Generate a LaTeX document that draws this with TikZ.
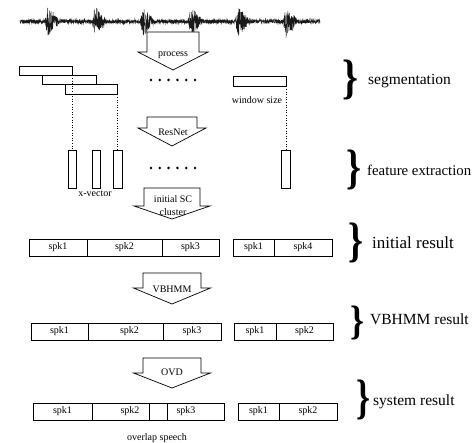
\documentclass[tikz,border=0pt]{standalone}
\usepackage{fontspec}
\setmainfont{Liberation Serif}
\usepackage{graphicx}
\newcommand{\blkarrow}[6]{%
  \draw[barrow] ({#1-#5},#2) -- ({#1+#5},#2) -- ({#1+#5},#3) -- ({#1+#6},#3)
    -- (#1,#4) -- ({#1-#6},#3) -- ({#1-#5},#3) -- cycle;}
\begin{document}
\begin{tikzpicture}[x=1pt,y=-1pt,
  declare function={bu(\u)=max(0,min(1+\u/3,1-\u/12));},
  wave/.style={line width=0.45pt, black!90},
  barrow/.style={draw, line width=0.7pt, fill=white},
  cell/.style={draw, line width=0.8pt, minimum height=17pt, inner sep=0pt, font=\fontsize{10}{12}\selectfont},
  seg/.style={draw, line width=0.8pt, inner sep=0pt},
  vec/.style={draw, line width=0.8pt, inner sep=0pt, minimum width=8.5pt, minimum height=38pt},
  small/.style={inner sep=0pt, font=\fontsize{10}{12}\selectfont},
  big/.style={inner sep=0pt, anchor=west, font=\fontsize{15.5}{18}\selectfont},
  dotline/.style={dotted, line width=0.6pt},
  brc/.style={inner sep=0pt, font=\bfseries}
]
\useasboundingbox (0,0) rectangle (474,443);
% waveform
\pgfmathsetseed{7}
\draw[wave] plot[domain=20:320, samples=1800, variable=\t]
  (\t, {21.5 + (1.8 + 13.5*(bu(\t-48)+bu(\t-95)+bu(\t-143)+bu(\t-191)+bu(\t-238)+bu(\t-286)))*(2*rnd-1)});
% process arrow
\blkarrow{173}{32}{52}{70}{26}{35}
\node[small] (tproc) at (173,55) {process};
% segmentation boxes
\node[seg, minimum width=53pt, minimum height=9pt] (b1) at (45.5,70.5) {};
\node[seg, minimum width=54pt, minimum height=9pt] (b2) at (69,79.5) {};
\node[seg, minimum width=52pt, minimum height=10pt] (b3) at (91,89) {};
\node[seg, minimum width=53pt, minimum height=10pt] (win) at (259.5,81) {};
\node[small] (twin) at (257,100) {window size};
\foreach \i in {0,...,5} \fill (151+\i*8.8,80) circle (1.4);
% ResNet arrow
\blkarrow{172}{117}{128}{146}{25}{34}
\node[small] (tres) at (173,132) {ResNet};
% feature vectors
\node[vec] (f1) at (72.5,169) {};
\node[vec] (f2) at (96.5,169) {};
\node[vec] (f3) at (118,169.5) {};
\node[vec] (f4) at (286,169.5) {};
\draw[dotline] (b1.south east) -- (b1.south east |- f1.north);
\draw[dotline] (b3.south east) -- (b3.south east |- f3.north);
\draw[dotline] (win.south east) -- (win.south east |- f4.north);
\node[small] (txv) at (95,194) {x-vector};
\foreach \i in {0,...,5} \fill (151+\i*8.8,168) circle (1.4);
% initial SC arrow
\blkarrow{172}{188}{206}{219}{28}{38}
\node[small, align=center] (tisc) at (173,206) {initial SC\\[1pt]cluster};
% initial result
\node[cell, minimum width=58pt] (i1) at (58,247.5) {spk1};
\node[cell, minimum width=75pt] (i2) at (124.5,247.5) {spk2};
\node[cell, minimum width=57pt] (i3) at (190.5,247.5) {spk3};
\node[cell, minimum width=41pt] (i4) at (253.5,247.5) {spk1};
\node[cell, minimum width=58pt] (i5) at (303,247.5) {spk4};
% VBHMM arrow
\blkarrow{172}{273}{288}{304}{29}{38.5}
\node[small] (tvb) at (172,289) {VBHMM};
% VBHMM result
\node[cell, minimum width=57pt] (v1) at (59.5,331.5) {spk1};
\node[cell, minimum width=75pt] (v2) at (125.5,331.5) {\hspace*{8pt}spk2};
\node[cell, minimum width=58pt] (v3) at (192,331.5) {spk3};
\node[cell, minimum width=42pt] (v4) at (255,331.5) {spk1};
\node[cell, minimum width=57pt] (v5) at (304.5,331.5) {spk2};
% OVD arrow
\blkarrow{172}{358}{373}{388}{29}{38.5}
\node[small] (tovd) at (172,372) {OVD};
% system result
\node[cell, minimum width=59pt] (s1) at (62.5,411.5) {spk1};
\node[cell, minimum width=57pt] (s2) at (120.5,411.5) {};
\node[cell, minimum width=18pt] (s3) at (158,411.5) {};
\node[cell, minimum width=57pt] (s4) at (195.5,411.5) {};
\node[cell, minimum width=41pt] (s5) at (258.5,411.5) {spk1};
\node[cell, minimum width=58pt] (s6) at (308,411.5) {spk2};
\node[small] (ts2) at (130,411.5) {spk2};
\node[small] (ts4) at (186,411.5) {spk3};
\node[small] (tov) at (157,438) {overlap speech};
% braces and labels
\node[brc] (br1) at (350.5,80) {\resizebox*{16pt}{40pt}{\}}};
\node[big] (l1) at (368,81) {segmentation};
\node[brc] (br2) at (353.5,170) {\resizebox*{15pt}{40pt}{\}}};
\node[big, font=\fontsize{14.8}{18}\selectfont] (l2) at (367,170) {feature extraction};
\node[brc] (br3) at (356,243) {\resizebox*{15pt}{40pt}{\}}};
\node[big, font=\fontsize{17}{20}\selectfont] (l3) at (372,243) {initial result};
\node[brc] (br4) at (357.5,323) {\resizebox*{14pt}{34pt}{\}}};
\node[big] (l4) at (370,319) {VBHMM result};
\node[brc] (br5) at (363,400) {\resizebox*{14pt}{40pt}{\}}};
\node[big] (l5) at (373,402) {system result};
\end{tikzpicture}
\end{document}
